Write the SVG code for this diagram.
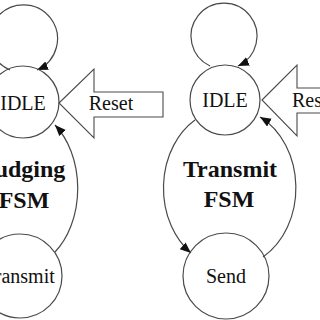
<svg xmlns="http://www.w3.org/2000/svg" width="320" height="320" viewBox="0 0 320 320">
<style>
.st{fill:none;stroke:#4a4a4a;stroke-width:1.2}
.node{fill:#fff;stroke:#4a4a4a;stroke-width:1.2}
.lbl{font-family:"Liberation Serif","Times New Roman",serif;font-size:20px;fill:#111;text-anchor:middle}
.ttl{font-family:"Liberation Serif","Times New Roman",serif;font-size:24px;font-weight:bold;fill:#111;text-anchor:middle}
.rs{fill:#fff;stroke:#4a4a4a;stroke-width:1.1}
</style>
<defs>
<marker id="ah" markerUnits="userSpaceOnUse" markerWidth="12" markerHeight="10" refX="11" refY="4.5" orient="auto">
<path d="M0,0 L11,4.5 L0,9 z" fill="#111"/>
</marker>
</defs>
<rect width="320" height="320" fill="#fff"/>
<g id="connectors">
<path class="st" d="M10,70 A34,34 0 1 1 37,70" marker-end="url(#ah)"/>
<path class="st" d="M55,252 A58,80 0 0 0 55,125" marker-end="url(#ah)"/>
<path class="st" d="M210,66 A33,33 0 1 1 238,66" marker-end="url(#ah)"/>
<path class="st" d="M195,120 A64,79 0 0 0 191,253" marker-end="url(#ah)"/>
<path class="st" d="M263,257 A64,79 0 0 0 260,117" marker-end="url(#ah)"/>
</g>
<g id="judging-title">
<text class="ttl" x="24" y="177">Judging</text>
<text class="ttl" x="24" y="208">FSM</text>
</g>
<g id="transmit-title">
<text class="ttl" x="230" y="177">Transmit</text>
<text class="ttl" x="229" y="207">FSM</text>
</g>
<g id="idle-left">
<circle class="st" cx="23" cy="102" r="36"/>
<text class="lbl" x="23" y="110">IDLE</text>
</g>
<g id="transmit-left">
<circle class="st" cx="20" cy="276" r="42"/>
<text class="lbl" x="19" y="283">Transmit</text>
</g>
<g id="idle-right">
<circle class="st" cx="225" cy="100" r="35"/>
<text class="lbl" x="225" y="107">IDLE</text>
</g>
<g id="send-right">
<circle class="st" cx="226" cy="276" r="43"/>
<text class="lbl" x="226" y="283">Send</text>
</g>
<g id="reset-left">
<polygon class="rs" points="59,103 94,69 94,92 163,92 163,117 94,117 94,138"/>
<text class="lbl" x="111" y="110">Reset</text>
</g>
<g id="reset-right">
<polygon class="rs" points="262,100 297,65 297,88 330,88 330,113 297,113 297,136"/>
<text class="lbl" x="292" y="107" style="text-anchor:start">Reset</text>
</g>
</svg>
